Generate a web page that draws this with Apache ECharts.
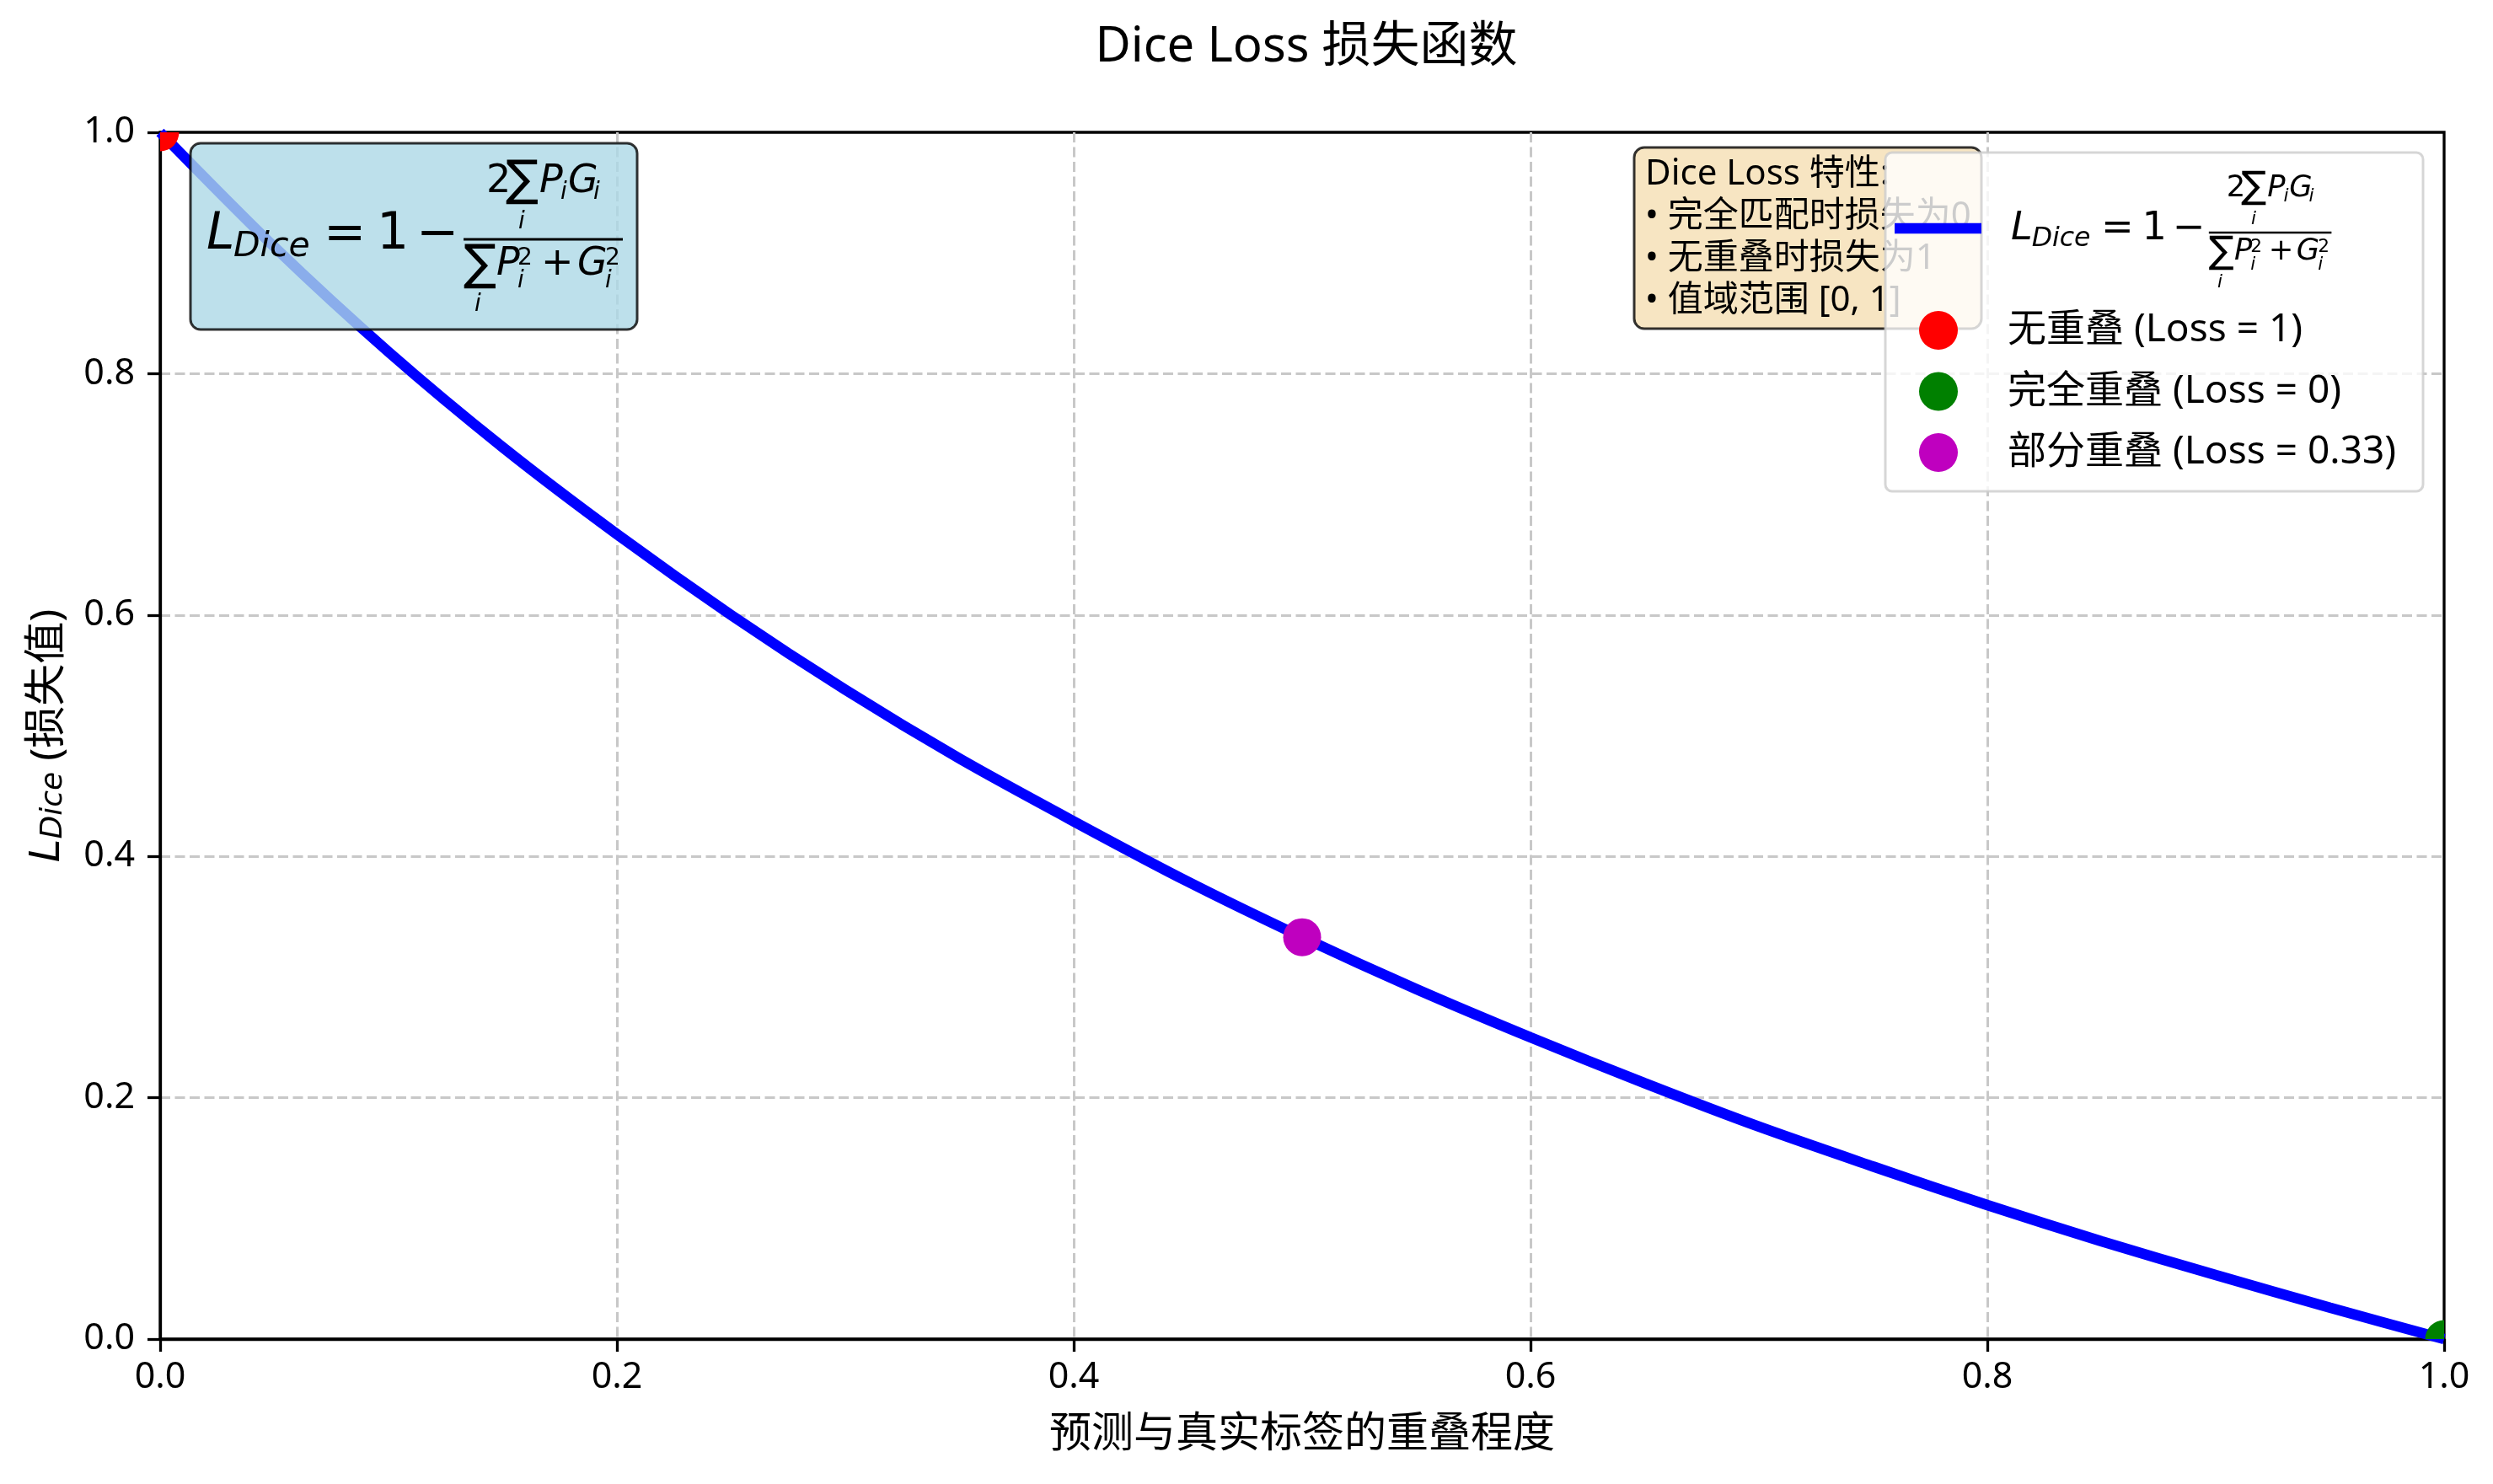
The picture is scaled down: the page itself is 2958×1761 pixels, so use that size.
<!DOCTYPE html>
<html>
<head>
<meta charset="utf-8">
<script src="https://cdn.jsdelivr.net/npm/echarts@6/dist/echarts.min.js"></script>
<style>
  html, body { margin: 0; padding: 0; background: #fff; }
  #chart { width: 2958px; height: 1761px; }
</style>
</head>
<body>
<div id="chart"></div>
<script>
// 重叠程度 (x) 与 Dice 损失 (y)
const overlap = [0, 0.05, 0.1, 0.15, 0.2, 0.25, 0.3, 0.35, 0.4, 0.45, 0.5, 0.55, 0.6, 0.65, 0.7, 0.75, 0.8, 0.85, 0.9, 0.95, 1.0]
const diceLoss = [1.0, 0.905, 0.818, 0.739, 0.667, 0.6, 0.538, 0.481, 0.429, 0.379, 0.333, 0.29, 0.25, 0.212, 0.176, 0.143, 0.111, 0.081, 0.053, 0.026, 0.0]

// 三个特殊点
const pointNames = ['无重叠 (Loss = 1)', '完全重叠 (Loss = 0)', '部分重叠 (Loss = 0.33)']
const pointX = [0, 1, 0.5]
const pointY = [1, 0, 0.333]
const pointColors = ['#ff0000', '#008000', '#bf00bf']

const tickValues = [0, 0.2, 0.4, 0.6, 0.8, 1.0]
const infoLines = ['Dice Loss 特性:', '• 完全匹配时损失为0', '• 无重叠时损失为1', '• 值域范围 [0, 1]']

const CJK = '"Noto Sans", "Noto Sans CJK SC", sans-serif'
const MATH = '"DejaVu Sans"'

// 公式: L_Dice = 1 - 2∑PiGi / ∑(Pi^2 + Gi^2)
// x0 = L 左边, y0 = 分数线, s = 缩放
function formula(x0, y0, s, z) {
  const out = []
  const t = (str, dx, base, size, italic, align) => {
    out.push({
      type: 'text', z: z,
      x: x0 + dx * s, y: y0 + (base - 0.3 * size) * s,
      style: {
        text: str,
        font: (italic ? 'italic ' : '') + (size * s).toFixed(1) + 'px ' + MATH,
        fill: '#000', align: align || 'left', verticalAlign: 'middle'
      }
    })
  }
  const sum = (dx, cy) => {
    out.push({
      type: 'text', z: z,
      x: x0 + dx * s, y: y0 + cy * s,
      style: { text: '∑', font: (58 * s).toFixed(1) + 'px ' + MATH, fill: '#000', align: 'left', verticalAlign: 'middle' }
    })
  }
  t('L', 0, 13, 60, true)
  t('Dice', 32, 22, 41, true)
  t('=', 139, 13, 60, false)
  t('1', 202, 13, 60, false)
  t('−', 249, 13, 60, false)
  out.push({ type: 'line', z: z, shape: { x1: x0 + 305 * s, y1: y0, x2: x0 + 494 * s, y2: y0 }, style: { stroke: '#000', lineWidth: 3 * s } })
  // 分子
  t('2', 332, -54, 46, false)
  sum(355, -68)
  t('i', 374, -12, 28, true, 'center')
  t('P', 395, -54, 46, true)
  t('i', 420, -47, 28, true)
  t('G', 429, -54, 46, true)
  t('i', 459, -47, 28, true)
  // 分母
  sum(305, 32)
  t('i', 322, 86, 28, true, 'center')
  t('P', 344, 44, 46, true)
  t('2', 369, 31, 28, false)
  t('i', 369, 58, 28, true)
  t('+', 397, 44, 46, false)
  t('G', 440, 44, 46, true)
  t('2', 473, 31, 28, false)
  t('i', 473, 58, 28, true)
  return out
}

const chart = echarts.init(document.getElementById('chart'))

const pointSeries = pointNames.map((name, i) => ({
  name: name,
  type: 'custom',
  clip: true,
  z: 3,
  itemStyle: { color: pointColors[i] },
  data: [[pointX[i], pointY[i]]],
  renderItem: (params, api) => {
    const p = api.coord([api.value(0), api.value(1)])
    return { type: 'circle', shape: { cx: p[0], cy: p[1], r: 22.5 }, style: { fill: api.visual('color') } }
  }
}))

const axisCommon = {
  type: 'value',
  min: 0,
  max: 1,
  interval: 0.2,
  axisLine: { onZero: false, lineStyle: { color: '#000', width: 3.3 } },
  axisTick: { length: 15, lineStyle: { color: '#000', width: 3.3 } },
  splitLine: {
    show: true, showMinLine: false, showMaxLine: false,
    lineStyle: { color: '#c8c8c8', width: 3, type: [12, 5.5] }
  }
}

const option = {
  animation: false,
  backgroundColor: '#fff',
  title: {
    text: 'Dice Loss 损失函数',
    left: 1545,
    textAlign: 'center',
    top: 22,
    textStyle: { fontFamily: CJK, fontSize: 58, fontWeight: 'normal', color: '#000' }
  },
  grid: {
    left: 190, right: 58, top: 157, bottom: 172,
    show: true, borderColor: '#000', borderWidth: 3.3
  },
  legend: {
    orient: 'vertical',
    left: 2277,
    top: 369,
    padding: 0,
    z: 7,
    itemWidth: 46,
    itemHeight: 46,
    itemGap: 26.5,
    selectedMode: false,
    data: pointNames.map(n => ({ name: n, icon: 'circle' })),
    textStyle: { fontFamily: CJK, fontSize: 46, lineHeight: 46, color: '#000', padding: [0, 0, 0, 54] }
  },
  xAxis: Object.assign({}, axisCommon, {
    name: '预测与真实标签的重叠程度',
    nameLocation: 'middle',
    nameGap: 89,
    nameTextStyle: { fontFamily: CJK, fontSize: 50, color: '#000' },
    axisLabel: {
      fontFamily: CJK, fontSize: 43, color: '#000', margin: 24,
      formatter: v => tickValues.indexOf(v) >= 0 ? v.toFixed(1) : ''
    }
  }),
  yAxis: Object.assign({}, axisCommon, {
    name: '{L|L}{D|Dice}{t| (损失值)}',
    nameLocation: 'middle',
    nameRotate: 90,
    nameGap: 108,
    nameTextStyle: {
      color: '#000',
      rich: {
        L: { fontFamily: MATH, fontStyle: 'italic', fontSize: 50, lineHeight: 50 },
        D: { fontFamily: MATH, fontStyle: 'italic', fontSize: 36, lineHeight: 20, verticalAlign: 'bottom' },
        t: { fontFamily: CJK, fontSize: 50, lineHeight: 50 }
      }
    },
    axisLabel: {
      fontFamily: CJK, fontSize: 43, color: '#000', margin: 30,
      formatter: v => tickValues.indexOf(v) >= 0 ? v.toFixed(1) : ''
    }
  }),
  series: [
    {
      name: 'Dice Loss',
      type: 'line',
      z: 2,
      showSymbol: false,
      smooth: 0.3,
      lineStyle: { color: '#0000ff', width: 12.5 },
      data: overlap.map((x, i) => [x, diceLoss[i]])
    }
  ].concat(pointSeries),
  graphic: {
    elements: [
      // 左上公式框
      {
        type: 'rect', z: 5,
        shape: { x: 226, y: 170, width: 530, height: 221, r: 12 },
        style: { fill: 'rgba(173,216,230,0.8)', stroke: 'rgba(0,0,0,0.8)', lineWidth: 3 }
      }
    ].concat(formula(245, 284, 1, 6)).concat([
      // 特性说明框
      {
        type: 'rect', z: 5,
        shape: { x: 1939, y: 175, width: 412, height: 215, r: 12 },
        style: { fill: 'rgba(245,222,179,0.8)', stroke: 'rgba(0,0,0,0.8)', lineWidth: 3 }
      },
      {
        type: 'text', z: 5,
        x: 1952, y: 182,
        style: { text: infoLines.join('\n'), font: '42px ' + CJK, lineHeight: 50, fill: '#000', verticalAlign: 'top' }
      },
      // 图例框
      {
        type: 'rect', z: 6,
        shape: { x: 2237, y: 181, width: 638, height: 402, r: 8 },
        style: { fill: 'rgba(255,255,255,0.8)', stroke: 'rgba(204,204,204,0.8)', lineWidth: 3 }
      },
      {
        type: 'line', z: 7,
        shape: { x1: 2248, y1: 271, x2: 2351, y2: 271 },
        style: { stroke: '#0000ff', lineWidth: 12.5 }
      }
    ]).concat(formula(2386, 276, 0.77, 7))
  }
}

chart.setOption(option)
</script>
</body>
</html>
